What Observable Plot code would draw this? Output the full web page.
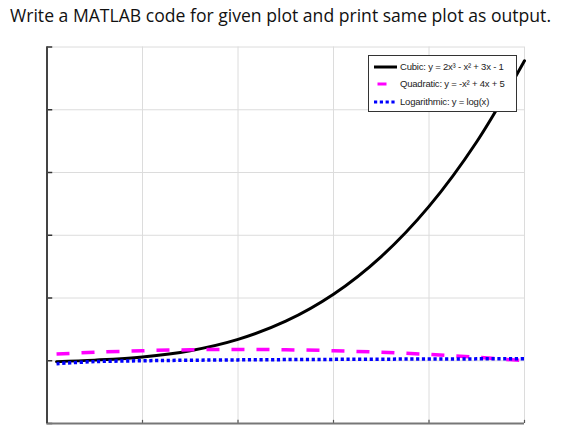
<!DOCTYPE html>
<html>
<head>
<meta charset="utf-8">
<script src="https://cdn.jsdelivr.net/npm/d3@7"></script>
<script src="https://cdn.jsdelivr.net/npm/@observablehq/plot@0.6"></script>
<style>
  html, body { margin: 0; padding: 0; background: #fff; }
  #wrap { position: relative; width: 572px; height: 427px; overflow: hidden; }
  #title { display: block; overflow: visible; }
  #chart { position: absolute; left: 0; top: 40px; }
  #legend { position: absolute; left: 368px; top: 55px; width: 149px; height: 57px;
    border: 1px solid #333; background: #fff; box-sizing: border-box;
    font-family: "Liberation Sans", Arial, sans-serif; font-size: 9.5px; color: #222; }
  .row { position: absolute; left: 0; height: 12px; width: 100%; }
  .row svg { position: absolute; left: 4px; top: 0; }
  .row span { position: absolute; left: 31px; top: 0px; white-space: nowrap; letter-spacing: -0.2px; }
</style>
</head>
<body>
<div id="wrap">
  <svg id="title" width="572" height="40">
    <text x="10" y="22" font-family="'Open Sans', 'Liberation Sans', sans-serif" font-size="18" fill="#111" textLength="541" lengthAdjust="spacingAndGlyphs">Write a MATLAB code for given plot and print same plot as output.</text>
  </svg>
  <div id="chart"></div>
  <div id="legend"></div>
</div>
<script>
// Sample x positions
const xs = [0.1, 0.5, 1.0, 1.5, 2.0, 2.5, 3.0, 3.5, 4.0, 4.5, 5.0];
// Cubic: y = 2x^3 - x^2 + 3x - 1
const cubic = [-0.71, 0.5, 3, 8, 17, 31.5, 53, 83, 123, 174.5, 239];
// Quadratic: y = -x^2 + 4x + 5
const quadratic = [5.39, 6.75, 8, 8.75, 9, 8.75, 8, 6.75, 5, 2.75, 0];
// Logarithmic: y = log(x)
const logarithmic = [-2.30, -0.69, 0, 0.41, 0.69, 0.92, 1.10, 1.25, 1.39, 1.50, 1.61];

const xTicks = [0, 1, 2, 3, 4, 5];
const yTicks = [-50, 0, 50, 100, 150, 200, 250];

const seriesNames = ["Cubic: y = 2x³ - x² + 3x - 1", "Quadratic: y = -x² + 4x + 5", "Logarithmic: y = log(x)"];
const seriesColors = ["#000000", "#ff00ff", "#0000ff"];

const toRows = (ys) => xs.map((x, i) => ({x, y: ys[i]}));

const chart = Plot.plot({
  width: 572,
  height: 387,
  marginTop: 6.5,
  marginLeft: 46.5,
  marginRight: 48,
  marginBottom: 4,
  x: {domain: [0, 5], axis: null},
  y: {domain: [-50, 250], axis: null},
  style: {background: "#fff"},
  marks: [
    Plot.ruleX(xTicks.slice(1), {stroke: "#dcdcdc", strokeWidth: 1, strokeOpacity: 1}),
    Plot.ruleY(yTicks.slice(1), {stroke: "#dcdcdc", strokeWidth: 1, strokeOpacity: 1}),
    Plot.line(toRows(cubic), {x: "x", y: "y", stroke: seriesColors[0], strokeWidth: 3, curve: "catmull-rom"}),
    Plot.line(toRows(quadratic), {x: "x", y: "y", stroke: seriesColors[1], strokeWidth: 3.5, strokeDasharray: "13 12", strokeLinecap: "butt", curve: "catmull-rom"}),
    Plot.line(toRows(logarithmic), {x: "x", y: "y", stroke: seriesColors[2], strokeWidth: 3.5, strokeDasharray: "3.2 2.6", strokeLinecap: "butt", curve: "catmull-rom"}),
    Plot.ruleY(yTicks, {x1: 0, x2: 0.06, stroke: "#333", strokeWidth: 1.5}),
    Plot.ruleX(xTicks.slice(1), {y1: -50, y2: -47.5, stroke: "#555", strokeWidth: 1.2}),
    Plot.ruleY([-50], {stroke: "#777", strokeWidth: 2}),
    Plot.ruleX([0], {stroke: "#444", strokeWidth: 2})
  ]
});
document.getElementById("chart").appendChild(chart);

// Legend
const legend = document.getElementById("legend");
const dashes = [null, "9 20", "3.2 2.6"];
const rowTops = [5, 22, 40];
seriesNames.forEach((name, i) => {
  const row = document.createElement("div");
  row.className = "row";
  row.style.top = rowTops[i] + "px";
  const s = d3.create("svg").attr("width", 24).attr("height", 12);
  const ln = s.append("line").attr("x1", i === 1 ? 4.5 : 1).attr("x2", 24).attr("y1", 6).attr("y2", 6)
    .attr("stroke", seriesColors[i]).attr("stroke-width", 3);
  if (dashes[i]) ln.attr("stroke-dasharray", dashes[i]);
  row.appendChild(s.node());
  const sp = document.createElement("span");
  sp.textContent = name;
  row.appendChild(sp);
  legend.appendChild(row);
});
</script>
</body>
</html>
